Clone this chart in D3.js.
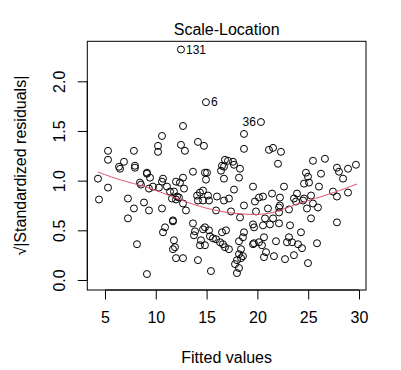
<!DOCTYPE html>
<html>
<head>
<meta charset="utf-8">
<script src="https://cdn.jsdelivr.net/npm/d3@7"></script>
<style>
  body { margin: 0; background: #fff; }
  svg { display: block; font-family: "Liberation Sans", Arial, sans-serif; }
  .pt { fill: none; stroke: #000; stroke-width: 1; }
</style>
</head>
<body>
<svg id="chart" width="401" height="370"></svg>
<script>
// fitted values and sqrt(|standardized residuals|)
const fitted = [
  4.31, 4.41, 5.30, 5.30, 6.38, 6.48, 6.87, 7.85, 7.95, 7.95, 5.30, 7.26, 7.85, 7.26,
  10.22, 10.22, 10.61, 12.68, 12.48, 12.87, 9.13, 9.13, 9.43, 8.44, 8.54, 10.71, 10.61,
  9.72, 9.33, 10.31, 11.10, 11.79, 11.40, 11.99, 12.38, 12.68, 12.78, 12.09, 11.59,
  8.84, 9.33, 10.61, 11.69, 11.69, 10.91, 10.71, 11.79, 11.89, 11.69, 11.99, 12.68,
  8.15, 9.13, 11.99, 12.28, 12.68, 12.97, 12.48, 14.94, 20.35,
  14.15, 14.74, 18.68, 18.68, 21.14, 21.54, 22.32, 22.03, 16.81, 17.11, 17.60, 17.70,
  16.52, 16.71, 16.42, 18.29, 13.66, 14.84, 15.04, 14.94, 16.71, 18.19, 19.57, 17.70,
  14.65, 14.35, 14.06, 15.14, 16.02, 17.20, 20.16, 20.55, 21.44, 14.15, 14.65, 15.24,
  16.71, 15.93, 17.40, 18.68, 19.76, 21.04, 19.86, 22.13, 22.13, 18.29, 20.75, 21.54,
  13.66, 14.84, 14.65, 15.24, 13.86, 13.76, 14.45, 14.35, 14.84, 15.33, 15.63, 15.93,
  16.32, 16.52, 16.91, 16.61, 16.81, 17.20, 18.39, 18.68, 18.58, 18.19, 19.57, 19.67,
  20.55, 21.24, 19.57, 19.67, 20.16, 20.45, 21.83, 20.65, 20.85, 20.65, 21.63, 18.19,
  18.58, 18.39, 17.99, 17.80, 18.19, 17.99, 14.15, 15.43,
  25.47, 26.65, 27.83, 28.03, 28.92, 29.70, 24.78, 24.98, 26.26, 28.43, 24.59, 25.08,
  22.62, 26.06, 23.90, 25.28, 27.44, 28.92, 27.83, 22.22, 24.59, 23.60, 22.22, 23.80,
  23.11, 24.88, 25.47, 25.96, 22.13, 23.21, 25.28, 27.83, 24.29, 23.11, 22.91, 23.41,
  24.00, 24.39, 25.87, 22.72, 23.60, 24.98, 24.49
];
const sqrtStdRes = [
  1.02, 0.81, 1.30, 1.21, 1.14, 1.12, 1.19, 1.30, 1.15, 1.13, 0.93, 0.82, 0.72, 0.62,
  1.29, 1.35, 1.45, 1.55, 1.36, 1.30, 1.08, 1.07, 1.03, 0.98, 0.96, 1.02, 0.99,
  0.94, 0.92, 0.93, 0.94, 0.89, 0.89, 0.99, 0.98, 1.03, 0.92, 0.84, 0.82,
  0.78, 0.70, 0.72, 0.60, 0.59, 0.53, 0.48, 0.40, 0.33, 0.31, 0.22, 0.22,
  0.36, 0.06, 0.81, 0.83, 0.77, 0.70, 2.32, 1.79, 1.59,
  1.39, 1.35, 1.47, 1.32, 1.31, 1.33, 1.29, 1.17, 1.21, 1.20, 1.19, 1.16,
  1.15, 1.14, 1.10, 1.12, 1.09, 1.08, 1.08, 1.01, 1.02, 1.03, 0.94, 0.91,
  0.90, 0.88, 0.85, 0.85, 0.84, 0.82, 0.83, 0.84, 0.87, 0.80, 0.80, 0.80,
  0.80, 0.70, 0.69, 0.75, 0.79, 0.72, 0.69, 0.73, 0.68, 0.63, 0.62, 0.62,
  0.57, 0.53, 0.51, 0.50, 0.49, 0.45, 0.40, 0.35, 0.35, 0.44, 0.42, 0.41,
  0.38, 0.48, 0.50, 0.36, 0.33, 0.31, 0.31, 0.48, 0.43, 0.39, 0.56, 0.53,
  0.55, 0.56, 0.36, 0.37, 0.38, 0.35, 0.39, 0.43, 0.28, 0.23, 0.24, 0.26,
  0.24, 0.22, 0.20, 0.16, 0.12, 0.07, 0.20, 0.09,
  1.20, 1.22, 1.13, 1.09, 1.12, 1.16, 1.08, 1.04, 1.07, 1.02, 0.97, 0.98,
  0.94, 0.94, 0.87, 0.85, 0.89, 0.88, 0.84, 0.83, 0.82, 0.82, 0.75, 0.79,
  0.71, 0.72, 0.77, 0.73, 0.57, 0.55, 0.62, 0.58, 0.48, 0.43, 0.38, 0.38,
  0.36, 0.32, 0.37, 0.21, 0.25, 0.17, 0.80
];

// labelled extreme points: index into the arrays above, label, side
const idIndex = [57, 58, 59];
const idLabels = ['131', '6', '36'];

// red smoother
const smoothX = [4.31, 6.38, 9.23, 11.69, 14.35, 16.61, 18.29, 20.26, 21.93, 23.50, 25.87, 27.44, 29.80];
const smoothY = [1.087, 1.007, 0.936, 0.835, 0.735, 0.684, 0.664, 0.654, 0.684, 0.755, 0.825, 0.876, 0.966];

const xTicks = [5, 10, 15, 20, 25, 30];
const yTicks = [0.0, 0.5, 1.0, 1.5, 2.0];

const box = { left: 87.3, right: 366, top: 41.3, bottom: 290 };

const svg = d3.select('#chart');

const x = d3.scaleLinear().domain([3.26, 30.69]).range([box.left, box.right]);
const y = d3.scaleLinear().domain([-0.1007, 2.4026]).range([box.bottom, box.top]);

// points
svg.append('g').selectAll('circle')
  .data(d3.range(fitted.length))
  .join('circle')
  .attr('class', 'pt')
  .attr('cx', i => x(fitted[i]))
  .attr('cy', i => y(sqrtStdRes[i]))
  .attr('r', 3.5);

// smoother
svg.append('path')
  .datum(d3.range(smoothX.length))
  .attr('fill', 'none')
  .attr('stroke', '#DF536B')
  .attr('stroke-width', 1)
  .attr('d', d3.line().x(i => x(smoothX[i])).y(i => y(smoothY[i])).curve(d3.curveBasis));

// id labels: left of the point when it sits in the right half
const midX = (d3.min(fitted) + d3.max(fitted)) / 2;
svg.append('g').selectAll('text')
  .data(idIndex)
  .join('text')
  .attr('x', (d, k) => fitted[d] > midX ? x(fitted[d]) - 5 : x(fitted[d]) + 5)
  .attr('y', d => y(sqrtStdRes[d]))
  .attr('dy', '0.35em')
  .attr('text-anchor', d => fitted[d] > midX ? 'end' : 'start')
  .attr('font-size', 12)
  .text((d, k) => idLabels[k]);

// box
svg.append('rect')
  .attr('x', box.left).attr('y', box.top)
  .attr('width', box.right - box.left).attr('height', box.bottom - box.top)
  .attr('fill', 'none').attr('stroke', '#000');

// x axis
const xAxis = svg.append('g')
  .attr('transform', `translate(0,${box.bottom})`)
  .call(d3.axisBottom(x).tickValues(xTicks).tickSize(9.5).tickSizeOuter(0).tickPadding(12));
xAxis.select('.domain').attr('d', `M${x(xTicks[0])},0H${x(xTicks[xTicks.length - 1])}`);
xAxis.selectAll('text').attr('font-size', 16).attr('font-family', null).attr('fill', '#000');

// y axis, labels turned like R's las = 0
const yAxis = svg.append('g')
  .attr('transform', `translate(${box.left},0)`)
  .call(d3.axisLeft(y).tickValues(yTicks).tickSize(9.5).tickSizeOuter(0).tickFormat(d3.format('.1f')));
yAxis.select('.domain').attr('d', `M0,${y(yTicks[0])}V${y(yTicks[yTicks.length - 1])}`);
yAxis.selectAll('text')
  .attr('font-size', 16).attr('font-family', null).attr('fill', '#000')
  .attr('x', null).attr('dy', null)
  .attr('text-anchor', 'middle')
  .attr('dominant-baseline', 'central')
  .attr('transform', 'translate(-28,0) rotate(-90)');

// titles
svg.append('text')
  .attr('x', (box.left + box.right) / 2).attr('y', 29)
  .attr('text-anchor', 'middle').attr('dominant-baseline', 'central')
  .attr('font-size', 16)
  .text('Scale-Location');

svg.append('text')
  .attr('x', (box.left + box.right) / 2).attr('y', 357)
  .attr('text-anchor', 'middle').attr('dominant-baseline', 'central')
  .attr('font-size', 16)
  .text('Fitted values');

svg.append('text')
  .attr('transform', `translate(20,${(box.top + box.bottom) / 2}) rotate(-90)`)
  .attr('text-anchor', 'middle').attr('dominant-baseline', 'central')
  .attr('font-size', 16)
  .text('√|Standardized residuals|');
</script>
</body>
</html>
